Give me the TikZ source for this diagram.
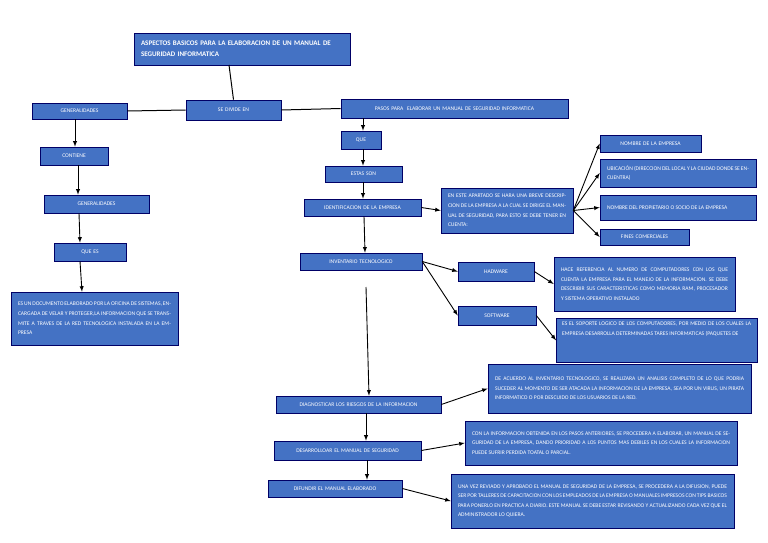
\documentclass[tikz,border=0pt]{standalone}
\usepackage{fontspec}
\setmainfont{Carlito}
\begin{document}
\begin{tikzpicture}[x=1pt,y=-1pt,
 bx/.style={draw=blue!40!black,fill={rgb,255:red,68;green,114;blue,196},text=white,line width=0.6pt,inner sep=2pt,font=\fontsize{5.6}{9.6}\selectfont,align=center},
 par/.style={bx,align=justify,inner xsep=6pt},
 ar/.style={-latex,line width=0.9pt},
 ln/.style={line width=1pt}]
\useasboundingbox (0,0) rectangle (768,543);
\newcommand\bxn[6]{\node[#1,minimum width=#4-#2,minimum height=#5-#3,text width=#4-#2-14] (#6) at ({(#2+#4)/2},{(#3+#5)/2})}
\bxn{bx,font=\bfseries\fontsize{7}{11}\selectfont,align=left}{134}{33}{350}{65}{title} {ASPECTOS BASICOS PARA LA ELABORACION DE UN MANUAL DE SEGURIDAD INFORMATICA};
\bxn{bx}{186}{100}{281}{120}{divide} {SE DIVIDE EN};
\bxn{bx}{32}{103}{127}{119}{gen} {GENERALIDADES};
\bxn{bx}{341}{99}{568}{118}{pasos} {PASOS PARA\ \ ELABORAR UN MANUAL DE SEGURIDAD INFORMATICA};
\bxn{bx}{341}{131}{381}{149}{que} {QUE};
\bxn{bx}{325}{166}{402}{182}{estas} {ESTAS SON};
\bxn{bx}{304}{199}{421}{216}{ident} {IDENTIFICACION DE LA EMPRESA};
\bxn{par}{441}{188}{573}{233}{apart} {EN ESTE APARTADO SE HARA UNA BREVE DESCRIPCION DE LA EMPRESA A LA CUAL SE DIRIGE EL MANUAL DE SEGURIDAD, PARA ESTO SE DEBE TENER EN CUENTA:};
\bxn{bx}{600}{135}{701}{152}{nom} {NOMBRE DE LA EMPRESA};
\bxn{par}{600}{159}{756}{187}{ubi} {UBICACIÓN (DIRECCION DEL LOCAL Y LA CIUDAD DONDE SE ENCUENTRA)};
\bxn{par}{600}{195}{756}{220}{prop} {NOMBRE DEL PROPIETARIO O SOCIO DE LA EMPRESA};
\bxn{bx}{600}{229}{689}{245}{fines} {FINES COMERCIALES};
\bxn{bx}{300}{253}{422}{270}{inv} {INVENTARIO TECNOLOGICO};
\bxn{bx}{458}{262}{534}{281}{hard} {HADWARE};
\bxn{par}{554}{257}{735}{311}{hace} {HACE REFERENCIA AL NUMERO DE COMPUTADORES CON LOS QUE CUENTA LA EMPRESA PARA EL MANEJO DE LA INFORMACION. SE DEBE DESCRIBIR SUS CARACTERISTICAS COMO MEMORIA RAM, PROCESADOR Y SISTEMA OPERATIVO INSTALADO};
\bxn{bx}{458}{306}{536}{325}{soft} {SOFTWARE};
\node[bx,anchor=north west,minimum width=201,minimum height=44,inner sep=0pt] (sop) at (556,318) {};
\node[font=\fontsize{5.6}{9.6}\selectfont,text=white,text width=189,align=justify,anchor=north west,inner sep=0pt] (soptxt) at (562,322) {ES EL SOPORTE LOGICO DE LOS COMPUTADORES, POR MEDIO DE LOS CUALES LA EMPRESA DESARROLLA DETERMINADAS TARES INFORMATICAS (PAQUETES DE};
\bxn{par}{488}{364}{751}{413}{acuerdo} {DE ACUERDO AL INVENTARIO TECNOLOGICO, SE REALIZARA UN ANALISIS COMPLETO DE LO QUE PODRIA SUCEDER AL MOMENTO DE SER ATACADA LA INFORMACION DE LA EMPRESA, SEA POR UN VIRUS, UN PIRATA INFORMATICO O POR DESCUIDO DE LOS USUARIOS DE LA RED.};
\bxn{bx}{276}{396}{441}{413}{diag} {DIAGNOSTICAR LOS RIESGOS DE LA INFORMACION};
\bxn{bx}{274}{441}{421}{460}{des} {DESARROLLOAR EL MANUAL DE SEGURIDAD};
\bxn{par}{465}{421}{737}{465}{con} {CON LA INFORMACION OBTENIDA EN LOS PASOS ANTERIORES, SE PROCEDERA A ELABORAR, UN MANUAL DE SEGURIDAD DE LA EMPRESA, DANDO PRIORIDAD A LOS PUNTOS MAS DEBILES EN LOS CUALES LA INFORMACION PUEDE SUFRIR PERDIDA TOATAL O PARCIAL.};
\bxn{bx}{268}{480}{402}{497}{dif} {DIFUNDIR EL MANUAL ELABORADO};
\bxn{par}{451}{474}{734}{528}{vez} {UNA VEZ REVIADO Y APROBADO EL MANUAL DE SEGURIDAD DE LA EMPRESA, SE PROCEDERA A LA DIFUSION, PUEDE SER POR TALLERES DE CAPACITACION CON LOS EMPLEADOS DE LA EMPRESA O MANUALES IMPRESOS CON TIPS BASICOS PARA PONERLO EN PRACTICA A DIARIO. ESTE MANUAL SE DEBE ESTAR REVISANDO Y ACTUALIZANDO CADA VEZ QUE EL ADMINISTRADOR LO QUIERA.};
\bxn{bx}{40}{147}{108}{165}{cont} {CONTIENE};
\bxn{bx}{44}{195}{149}{213}{gen2} {GENERALIDADES};
\bxn{bx}{54}{243}{126}{261}{quees} {QUE ES};
\bxn{par}{11}{292}{178}{345}{doc} {ES UN DOCUMENTO ELABORADO POR LA OFICINA DE SISTEMAS, ENCARGADA DE VELAR Y PROTEGER,LA INFORMACION QUE SE TRANSMITE A TRAVES DE LA RED TECNOLOGICA INSTALADA EN LA EMPRESA};
% connectors
\draw[ln] (229,65) -- (divide.north);
\draw[ln] (divide.west) -- (gen.east);
\draw[ln] (divide.east) -- (pasos.west);
\draw[ar] (gen.south -| 75,0) -- (cont.north -| 75,0);
\draw[ar] (cont.south -| 78,0) -- (gen2.north -| 78,0);
\draw[ar] (gen2.south -| 79,0) -- (quees.north -| 80,0);
\draw[ar] (quees.south -| 80,0) -- (doc.north -| 82,0);
\draw[ar] (pasos.south -| 363,0) -- (que.north -| 363,0);
\draw[ar] (que.south -| 363,0) -- (estas.north -| 363,0);
\draw[ar] (estas.south -| 363,0) -- (ident.north -| 363,0);
\draw[ar] (ident.south -| 364,0) -- (inv.north -| 365,0);
\draw[ar] (ident.east) -- (apart.west);
\draw[ar] (apart.east) -- (nom.west);
\draw[ar] (apart.east) -- (ubi.west);
\draw[ar] (apart.east) -- (prop.west);
\draw[ar] (apart.east) -- (fines.west);
\draw[ar] (inv.east) -- (hard.west);
\draw[ar] (inv.east) -- (soft.west);
\draw[ar] (hard.east) -- (hace.west);
\draw[ar] (soft.east) -- (sop.west);
\draw[ar] (366,287) -- (diag.north -| 369,0);
\draw[ar] (diag.east) -- (acuerdo.west);
\draw[ar] (diag.south -| 366,0) -- (des.north -| 366,0);
\draw[ar] (des.east) -- (con.west);
\draw[ar] (des.south -| 367,0) -- (dif.north -| 367,0);
\draw[ar] (dif.east) -- (vez.west);
\end{tikzpicture}
\end{document}
